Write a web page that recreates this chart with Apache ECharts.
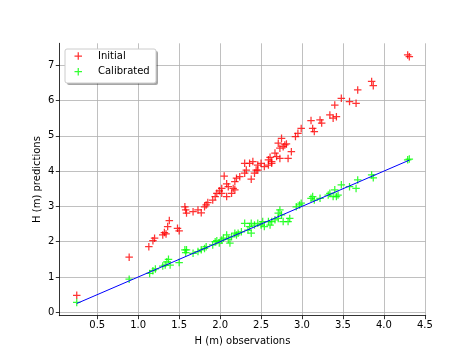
<!DOCTYPE html>
<html>
<head>
<meta charset="utf-8">
<script src="https://cdn.jsdelivr.net/npm/echarts@6/dist/echarts.min.js"></script>
<style>html,body{margin:0;padding:0;background:#fff}#c{width:474px;height:355px}</style>
</head>
<body>
<div id="c"></div>
<script>
// Initial predictions (red)
const initialX = [0.25,0.89,1.13,1.18,1.20,1.30,1.32,1.34,1.36,1.38,1.48,1.50,1.57,1.58,1.59,1.67,1.73,1.77,1.81,1.83,1.85,1.91,1.94,1.96,1.99,2.02,2.05,2.08,2.10,2.02,2.08,2.16,2.18,2.14,2.18,2.20,2.24,2.30,2.32,2.38,2.42,2.44,2.30,2.36,2.46,2.50,2.54,2.59,2.63,2.40,2.46,2.59,2.61,2.63,2.67,2.69,2.73,2.71,2.75,2.73,2.77,2.79,2.81,2.83,2.87,2.92,2.95,2.99,3.13,3.15,3.11,3.24,3.22,3.34,3.38,3.42,3.40,3.48,3.58,3.66,3.68,3.85,3.87,4.29,4.31];
const initialY = [0.48,1.56,1.86,2.03,2.10,2.19,2.26,2.22,2.43,2.60,2.38,2.31,2.99,2.90,2.81,2.85,2.90,2.82,2.99,3.04,3.11,3.18,3.28,3.37,3.44,3.51,3.86,3.64,3.56,3.37,3.28,3.51,3.47,3.37,3.70,3.80,3.84,3.94,4.03,3.77,3.94,4.03,4.22,4.22,4.17,4.22,4.13,4.17,4.22,4.27,4.03,4.32,4.39,4.27,4.51,4.41,4.36,4.79,4.93,4.65,4.69,4.74,4.77,4.36,4.55,4.98,5.07,5.21,5.21,5.12,5.43,5.36,5.45,5.59,5.50,5.54,5.87,6.06,5.97,5.92,6.30,6.54,6.42,7.29,7.24];
// Calibrated predictions (green)
const calibratedX = [0.25,0.89,1.14,1.18,1.21,1.30,1.33,1.35,1.37,1.39,1.50,1.57,1.58,1.59,1.67,1.73,1.77,1.81,1.83,1.91,1.94,1.96,1.99,2.02,2.04,2.08,2.10,2.12,2.14,2.18,2.20,2.22,2.26,2.30,2.34,2.36,2.38,2.38,2.42,2.46,2.50,2.54,2.52,2.59,2.61,2.63,2.67,2.71,2.71,2.73,2.75,2.77,2.83,2.85,2.93,2.97,2.99,3.11,3.13,3.15,3.22,3.32,3.34,3.38,3.42,3.40,3.44,3.48,3.58,3.66,3.68,3.85,3.87,4.29,4.31];
const calibratedY = [0.28,0.94,1.10,1.18,1.23,1.31,1.34,1.43,1.50,1.34,1.41,1.77,1.69,1.77,1.67,1.72,1.77,1.81,1.86,1.91,2.00,2.03,1.96,2.05,2.10,2.19,2.07,1.96,2.14,2.24,2.19,2.24,2.28,2.52,2.33,2.43,2.52,2.24,2.47,2.52,2.47,2.43,2.57,2.57,2.47,2.57,2.62,2.81,2.66,2.90,2.76,2.57,2.57,2.66,2.99,3.04,3.09,3.23,3.28,3.18,3.23,3.32,3.37,3.28,3.28,3.47,3.32,3.61,3.56,3.51,3.75,3.89,3.81,4.32,4.34];
// Identity line endpoints
const lineX = [0.25, 4.31];
const lineY = [0.25, 4.31];
// Ticks
const xTicks = [0.5,1.0,1.5,2.0,2.5,3.0,3.5,4.0,4.5];
const yTicks = [0,1,2,3,4,5,6,7];
const seriesNames = ['Initial','Calibrated'];

const plus = 'path://M5,0H7V5H12V7H7V12H5V7H0V5H5Z';
const zip = (a,b) => a.map((v,i)=>[v,b[i]]);
const font = 'DejaVu Sans';

const chart = echarts.init(document.getElementById('c'), null, {renderer:'canvas'});
chart.setOption({
  animation:false,
  backgroundColor:'#fff',
  textStyle:{fontFamily:font},
  grid:{left:59.3,right:48.3,top:43.3,bottom:39.3,containLabel:false},
  xAxis:{
    type:'value', min:0.037, max:4.51,
    name:'H (m) observations', nameLocation:'middle', nameGap:21, nameMoveOverlap:false,
    nameTextStyle:{fontFamily:font,fontSize:10,color:'#000'},
    axisLine:{show:true,onZero:false,lineStyle:{color:'#000',width:0.8}},
    axisTick:{show:true,inside:false,length:3.5,lineStyle:{color:'#000',width:0.8},customValues:xTicks},
    axisLabel:{customValues:xTicks,formatter:v=>v.toFixed(1),fontFamily:font,fontSize:10,color:'#000',margin:5,showMinLabel:true,showMaxLabel:true},
    splitLine:{show:true,lineStyle:{color:'#b0b0b0',width:0.8}}
  },
  yAxis:{
    type:'value', min:-0.096, max:7.62,
    name:'H (m) predictions', nameLocation:'middle', nameGap:17, nameRotate:90, nameMoveOverlap:false,
    nameTextStyle:{fontFamily:font,fontSize:10,color:'#000'},
    axisLine:{show:true,onZero:false,lineStyle:{color:'#000',width:0.8}},
    axisTick:{show:true,inside:false,length:3.5,lineStyle:{color:'#000',width:0.8},customValues:yTicks},
    axisLabel:{customValues:yTicks,formatter:v=>String(Math.round(v)),fontFamily:font,fontSize:10,color:'#000',margin:5},
    splitLine:{show:true,lineStyle:{color:'#b0b0b0',width:0.8}}
  },
  legend:{
    orient:'vertical', left:74.5, top:49, z:20,
    itemWidth:7.5, itemHeight:7.5, itemGap:1.7,
    padding:0,
    textStyle:{fontFamily:font,fontSize:10,color:'#000',lineHeight:14,padding:[0,0,0,11]},
    data:[{name:seriesNames[0],icon:plus},{name:seriesNames[1],icon:plus}]
  },
  graphic:[
    {type:'rect',z:15,shape:{x:67,y:51,width:91,height:34,r:2},style:{fill:'rgba(0,0,0,0.35)'}},
    {type:'rect',z:16,shape:{x:65,y:49,width:91,height:34,r:2},style:{fill:'#fff',stroke:'#cccccc',lineWidth:1}}
  ],
  series:[
    {name:seriesNames[0],type:'scatter',data:zip(initialX,initialY),symbol:plus,symbolSize:7.5,itemStyle:{color:'#ff0000'},z:3},
    {name:seriesNames[1],type:'scatter',data:zip(calibratedX,calibratedY),symbol:plus,symbolSize:7.5,itemStyle:{color:'#00ff00'},z:3},
    {name:'line',type:'line',data:zip(lineX,lineY),symbol:'none',lineStyle:{color:'#0000ff',width:1},z:4}
  ]
});
</script>
</body>
</html>
